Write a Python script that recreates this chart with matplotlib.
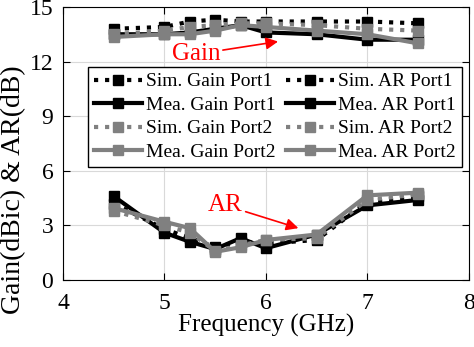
import matplotlib
matplotlib.use("Agg")
import matplotlib.pyplot as plt

plt.rcParams['font.family'] = ['Liberation Serif', 'DejaVu Serif']
plt.rcParams['mathtext.fontset'] = 'stix'

freq = [4.5, 5.0, 5.25, 5.5, 5.75, 6.0, 6.5, 7.0, 7.5]

sim_gain_p1 = [13.8, 13.9, 14.2, 14.3, 14.2, 14.2, 14.2, 14.2, 14.1]
mea_gain_p1 = [13.5, 13.5, 13.6, 13.8, 14.0, 13.6, 13.5, 13.2, 13.2]
sim_gain_p2 = [13.5, 13.7, 13.9, 14.0, 14.1, 14.1, 14.0, 13.8, 13.7]
mea_gain_p2 = [13.35, 13.5, 13.5, 13.7, 14.0, 13.9, 13.7, 13.5, 13.0]

sim_ar_p1 = [4.2, 2.8, 2.3, 1.8, 2.1, 2.0, 2.2, 4.3, 4.6]
mea_ar_p1 = [4.6, 2.6, 2.1, 1.7, 2.3, 1.75, 2.5, 4.1, 4.4]
sim_ar_p2 = [3.8, 3.0, 2.6, 1.6, 1.9, 2.2, 2.3, 4.4, 4.7]
mea_ar_p2 = [3.95, 3.2, 2.85, 1.55, 1.8, 2.2, 2.5, 4.65, 4.8]

labels = ['Sim. Gain Port1', 'Mea. Gain Port1', 'Sim. Gain Port2', 'Mea. Gain Port2',
          'Sim. AR Port1', 'Mea. AR Port1', 'Sim. AR Port2', 'Mea. AR Port2']

black = '#000000'
gray = '#808080'

fig = plt.figure(figsize=(4.74, 3.47), dpi=100)
ax = fig.add_axes([0.133, 0.193, 0.856, 0.787])

series = [
    (sim_gain_p1, black, ':'), (mea_gain_p1, black, '-'),
    (sim_gain_p2, gray, ':'), (mea_gain_p2, gray, '-'),
    (sim_ar_p1, black, ':'), (mea_ar_p1, black, '-'),
    (sim_ar_p2, gray, ':'), (mea_ar_p2, gray, '-'),
]
handles = []
for (vals, col, ls), lab in zip(series, labels):
    h, = ax.plot(freq, vals, color=col, linestyle=ls, linewidth=3,
                 marker='s', markersize=7.8, markerfacecolor=col,
                 markeredgecolor=col, label=lab, zorder=3)
    handles.append(h)

ax.set_xlim(4, 8)
ax.set_ylim(0, 15)
ax.set_xticks([4, 5, 6, 7, 8])
ax.set_yticks([0, 3, 6, 9, 12, 15])
ax.grid(True, color='#d9d9d9', linewidth=0.8)
ax.set_axisbelow(True)
ax.tick_params(direction='in', top=True, right=True, labelsize=17, length=5)
ax.tick_params(axis='x', pad=9)
ax.tick_params(axis='y', pad=7)
ax.set_xlabel('Frequency (GHz)', fontsize=18, labelpad=0)
ax.set_ylabel('Gain(dBic) & AR(dB)', fontsize=20)
ax.yaxis.set_label_coords(-0.09, 0.33)

leg = ax.legend(handles=handles, ncol=2, loc='upper center',
                bbox_to_anchor=(0.522, 0.78), fontsize=14, frameon=True,
                fancybox=False, edgecolor='black', framealpha=1,
                handlelength=2.5, handletextpad=0.2, columnspacing=0.5,
                labelspacing=0.3, borderpad=0.3, borderaxespad=0)
leg.get_frame().set_linewidth(1.0)

ax.annotate('Gain', xy=(6.12, 13.1), xytext=(5.07, 12.4), color='red', fontsize=18,
            va='center', ha='left',
            arrowprops=dict(arrowstyle='-|>', color='red', lw=1.2,
                            mutation_scale=18, shrinkA=0, shrinkB=0))
ax.annotate('AR', xy=(6.32, 2.85), xytext=(5.43, 4.1), color='red', fontsize=18,
            va='center', ha='left',
            arrowprops=dict(arrowstyle='-|>', color='red', lw=1.2,
                            mutation_scale=18, shrinkA=0, shrinkB=0))

fig.savefig('out.png', dpi=100)
